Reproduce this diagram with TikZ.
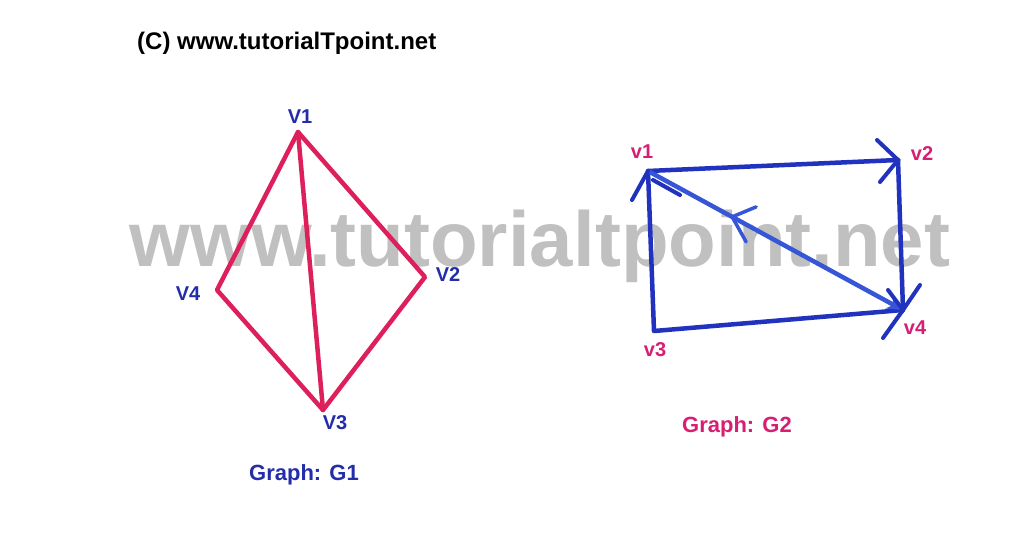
\documentclass[tikz,border=0pt]{standalone}
\usepackage{fontspec}
\setmainfont{Liberation Sans}
\usetikzlibrary{arrows.meta,calc}
\definecolor{redE}{RGB}{221,32,92}
\definecolor{blueL}{RGB}{35,45,170}
\definecolor{blueE}{RGB}{32,50,190}
\definecolor{blueD}{RGB}{55,85,215}
\definecolor{magL}{RGB}{215,30,115}
\definecolor{wm}{RGB}{192,192,192}
\tikzset{
  g1edge/.style={draw=redE, line width=4.5pt, line cap=round, line join=round},
  g2edge/.style={draw=blueE, line width=4.5pt, line cap=round, line join=round},
  g2mark/.style={draw=blueE, line width=4pt, line cap=round},
  bluelab/.style={text=blueL, font=\bfseries\fontsize{20}{22}\selectfont, anchor=base, inner sep=0pt},
  maglab/.style={text=magL, font=\bfseries\fontsize{20}{22}\selectfont, anchor=base, inner sep=0pt},
  caption/.style={font=\bfseries\fontsize{22}{26}\selectfont, anchor=base, inner sep=0pt}
}
\begin{document}
\begin{tikzpicture}[x=1pt,y=-1pt]
\useasboundingbox (0,0) rectangle (1027,535);
\fill[white] (0,0) rectangle (1027,535);
% watermark
\node[text=wm, font=\bfseries\fontsize{78}{80}\selectfont, anchor=base, inner sep=0pt] (wmk) at (540,266) {www.tutorialtpoint.net};
% title
\node[font=\bfseries\fontsize{24}{28}\selectfont, anchor=base west, inner sep=0pt] (title) at (137,50) {(C) www.tutorialTpoint.net};
% ---------- Graph G1 ----------
\coordinate (a1) at (298,132);
\coordinate (a2) at (425,277);
\coordinate (a3) at (323,410);
\coordinate (a4) at (217,290);
\draw[g1edge] (a1) -- (a2) -- (a3) -- (a4) -- cycle;
\draw[g1edge] (a1) -- (a3);
\node[bluelab] (la1) at (300,123) {V1};
\node[bluelab] (la2) at (448,281) {V2};
\node[bluelab] (la3) at (335,429) {V3};
\node[bluelab] (la4) at (188,300) {V4};
\node[caption, text=blueL] (cap1) at (304,480) {Graph: G1};
% ---------- Graph G2 ----------
\coordinate (b1) at (648,171);
\coordinate (b2) at (898,160);
\coordinate (b3) at (654,331);
\coordinate (b4) at (903,310);
\draw[g2edge] (b1) -- (b2) -- (b4) -- (b3) -- cycle;
\draw[draw=blueD, line width=4.5pt, line cap=round, -{Stealth[length=16pt,width=14pt]}] (b1) -- (b4);
% hand drawn arrow marks
\coordinate (m) at ($(b1)!0.33!(b4)$);
\draw[g2mark] ($(b2)+(-21,-20)$) -- (b2) -- ($(b2)+(-18,22)$);
\draw[g2mark] ($(b4)+(-15,-20)$) -- (b4) -- ($(b4)+(17,-25)$);
\draw[g2mark] (b4) -- ($(b4)+(-20,28)$);
\draw[g2mark] (b1) -- ($(b1)+(-16,29)$);
\draw[g2mark] ($(b1)+(5,9)$) -- ($(b1)+(32,24)$);
\draw[draw=blueD, line width=3.5pt, line cap=round] ($(m)+(24,-10)$) -- (m) -- ($(m)+(14,25)$);
\node[maglab] (lb1) at (642,158) {v1};
\node[maglab] (lb2) at (922,160) {v2};
\node[maglab] (lb3) at (655,356) {v3};
\node[maglab] (lb4) at (915,334) {v4};
\node[caption, text=magL] (cap2) at (737,432) {Graph: G2};
\end{tikzpicture}
\end{document}
